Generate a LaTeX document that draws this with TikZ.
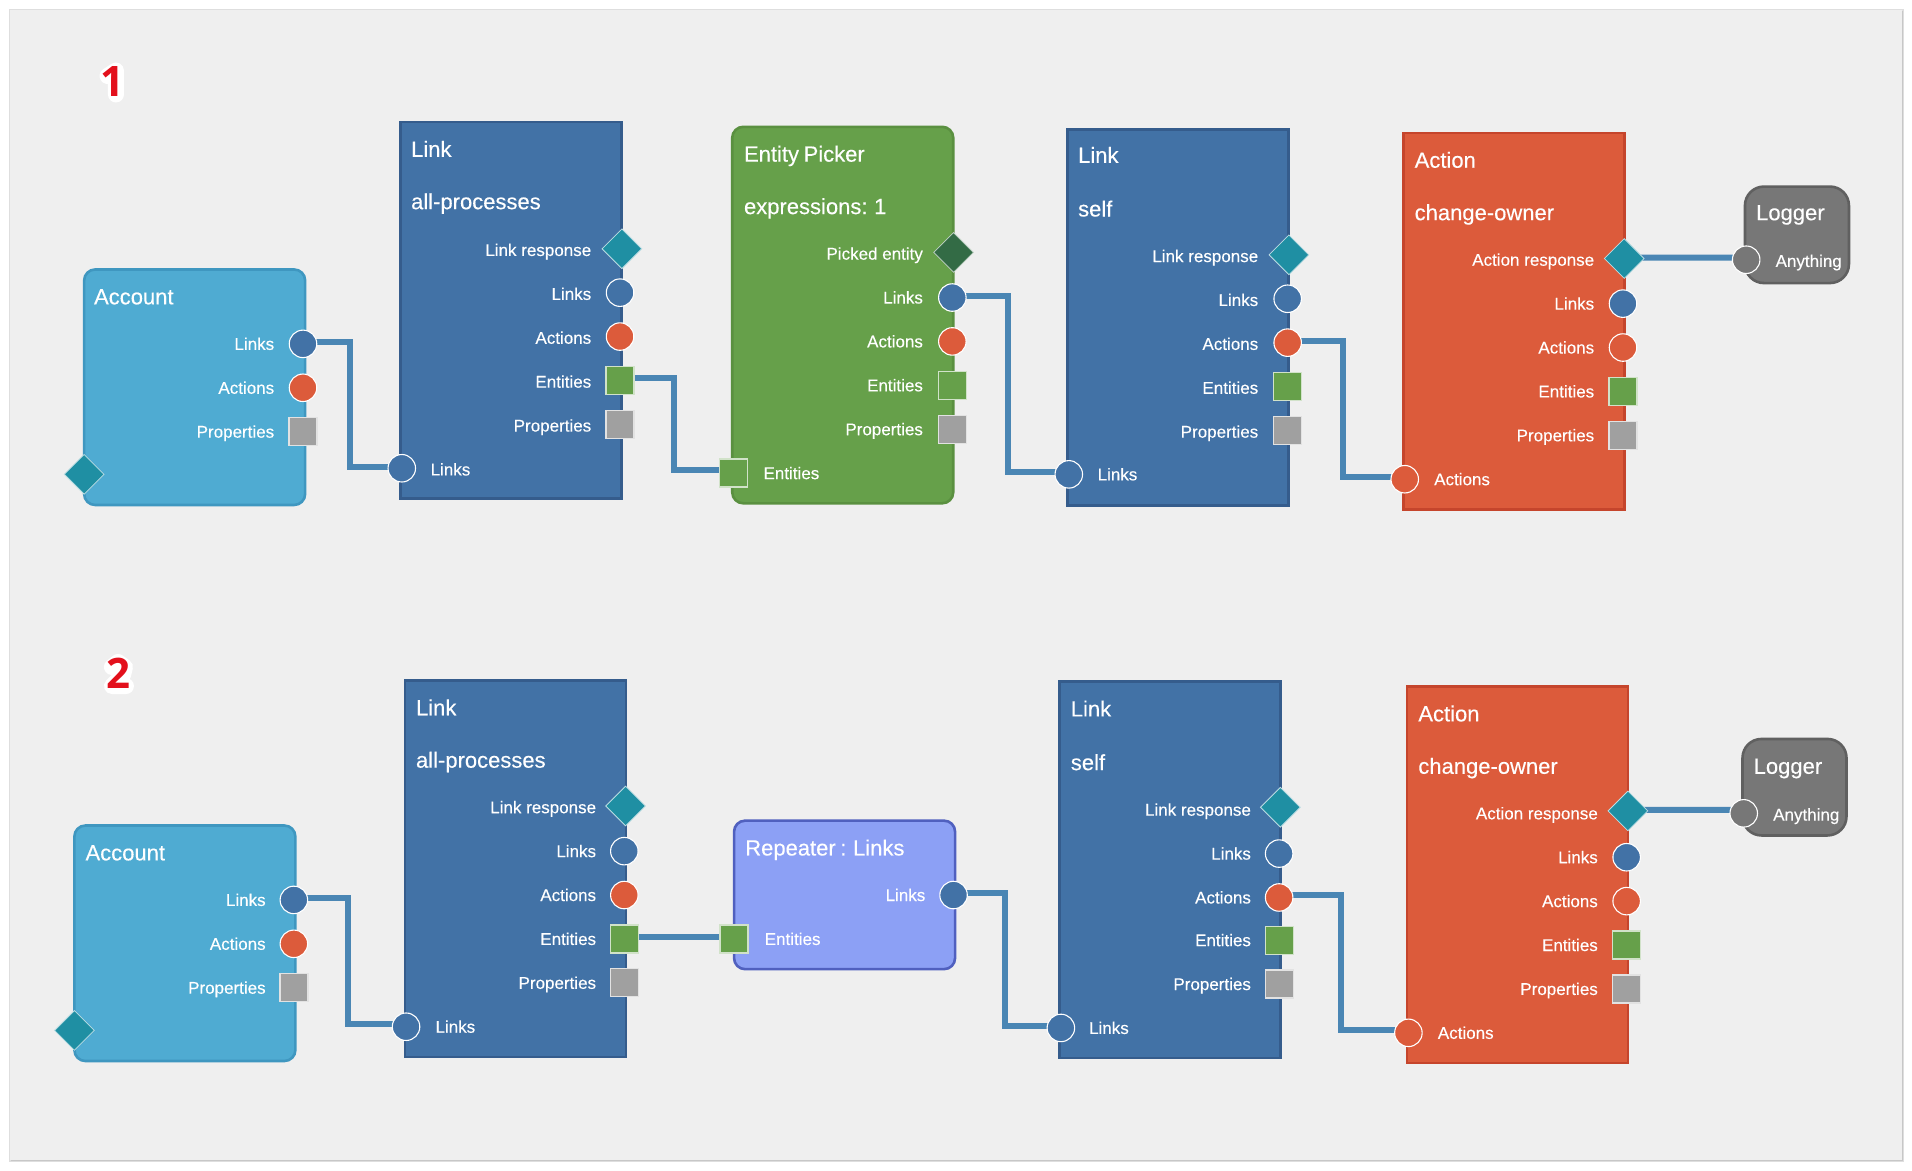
\documentclass[tikz,border=0pt]{standalone}
\usepackage{fontspec}
\setmainfont[FakeBold=0.25]{Liberation Sans}
\newfontfamily\digitfont{Open Sans}
\usetikzlibrary{shapes.geometric,backgrounds}

\definecolor{panelc}{HTML}{EFEFEF}
\definecolor{accountc}{HTML}{4FABD2}
\definecolor{accountb}{HTML}{3F97C0}
\definecolor{linkc}{HTML}{4272A6}
\definecolor{linkb}{HTML}{355C8C}
\definecolor{pickerc}{HTML}{66A04A}
\definecolor{pickerb}{HTML}{5A9040}
\definecolor{actionc}{HTML}{DC5B3B}
\definecolor{actionb}{HTML}{C5452C}
\definecolor{loggerc}{HTML}{777777}
\definecolor{loggerb}{HTML}{606060}
\definecolor{repeatc}{HTML}{8CA0F5}
\definecolor{repeatb}{HTML}{5060BF}
\definecolor{propc}{HTML}{A0A0A0}
\definecolor{respc}{HTML}{1F8FA3}
\definecolor{pickedc}{HTML}{336B45}
\definecolor{wirec}{HTML}{4A86B4}
\definecolor{digitc}{HTML}{E3101C}

\newcommand{\titlefont}{\fontsize{22}{24}\selectfont\spaceskip 4.6pt\relax}

\tikzset{
  block/.style={anchor=north west, line width=2.6pt, inner sep=0pt, outer sep=0pt, minimum width=221pt, minimum height=376.5pt},
  accountblock/.style={block, fill=accountc, draw=accountb, rounded corners=11pt, minimum height=235.5pt},
  linkblock/.style={block, fill=linkc, draw=linkb},
  pickerblock/.style={block, fill=pickerc, draw=pickerb, rounded corners=11pt},
  actionblock/.style={block, fill=actionc, draw=actionb},
  loggerblock/.style={block, fill=loggerc, draw=loggerb, rounded corners=19pt, minimum width=104pt, minimum height=96.5pt},
  repeatblock/.style={block, fill=repeatc, draw=repeatb, rounded corners=11pt, minimum height=148.5pt},
  title/.style={anchor=west, text=white, inner sep=0pt, text height=16pt, text depth=0pt, font=\titlefont},
  lblr/.style={anchor=east, text=white, inner sep=0pt, text height=12pt, text depth=0pt, font=\fontsize{17}{20}\selectfont},
  lbll/.style={lblr, anchor=west},
  round port/.style={circle, draw=white, line width=1.1pt, inner sep=0pt, minimum size=27.5pt},
  square port/.style={rectangle, line width=1.3pt, inner sep=0pt, minimum size=28pt},
  linkport/.style={round port, fill=linkc},
  actionport/.style={round port, fill=actionc},
  anyport/.style={round port, fill=loggerc},
  entityport/.style={square port, fill=pickerc, draw=white!70!pickerc},
  propport/.style={square port, fill=propc, draw=white!70!propc},
  respport/.style={diamond, fill=respc, draw=white!70!respc, line width=.8pt, inner sep=0pt, minimum size=40pt},
  pickedport/.style={respport, fill=pickedc, draw=white!70!pickedc},
  wire/.style={draw=wirec, line width=6pt},
  digit/.style={text=digitc, inner sep=0pt, text height=30pt, text depth=0pt, font=\fontsize{42}{44}\selectfont\digitfont\bfseries},
  blob/.style={draw=white, line width=16pt, line cap=round, line join=round, preaction={draw=black!35, transform canvas={yshift=-1.8pt}}}
}

\begin{document}
\begin{tikzpicture}[x=1.2194pt, y=-1.2194pt]
\useasboundingbox (0,0) rectangle (1568,959.5);

% Digits
\draw[blob] (88.2,62.3) -- (95.1,57.8) -- (95.1,77.5);
\node[digit] (one) at (92.3,67.2) {1};
\draw[blob] (91.8,547) -- (96.8,542.9) -- (102.5,547) -- (100.9,553.6) -- (91.8,562.6) -- (103.3,562.6);
\node[digit] (two) at (97.2,552.7) {2};

% Account, row 1
\node[accountblock] (acc1) at (69,221) {};
\node[title] (acc1T) at (77,243) {Account};
\node[lblr] (acc1LinksT) at (225,282) {Links};
\node[lblr] (acc1ActT) at (225,318) {Actions};
\node[lblr] (acc1PropT) at (225,354) {Properties};
\node[linkport] (acc1Links) at (248.5,282) {};
\node[actionport] (acc1Act) at (248.5,318) {};
\node[propport] (acc1Prop) at (248.5,354) {};
\node[respport] (acc1Resp) at (69,389) {};

% Link all-processes, row 1
\node[linkblock] (lk1) at (328.2,100.2) {};
\node[title] (lk1T) at (337,122) {Link};
\node[title] (lk1S) at (337,165) {all-processes};
\node[lblr] (lk1RespT) at (485,205) {Link response};
\node[lblr] (lk1LinksT) at (485,241) {Links};
\node[lblr] (lk1ActT) at (485,277) {Actions};
\node[lblr] (lk1EntT) at (485,313) {Entities};
\node[lblr] (lk1PropT) at (485,349) {Properties};
\node[lbll] (lk1InT) at (353,385) {Links};
\node[respport] (lk1Resp) at (510,204) {};
\node[linkport] (lk1Links) at (508.5,240) {};
\node[actionport] (lk1Act) at (508.5,276) {};
\node[entityport] (lk1Ent) at (508.5,312) {};
\node[propport] (lk1Prop) at (508.5,348) {};
\node[linkport] (lk1In) at (329.5,384) {};

% Entity picker
\node[pickerblock] (ep) at (600.5,104) {};
\node[title] (epT) at (610,126) {Entity Picker};
\node[title] (epS) at (610,169) {expressions: 1};
\node[lblr] (epRespT) at (757,208) {Picked entity};
\node[lblr] (epLinksT) at (757,244) {Links};
\node[lblr] (epActT) at (757,280) {Actions};
\node[lblr] (epEntT) at (757,316) {Entities};
\node[lblr] (epPropT) at (757,352) {Properties};
\node[lbll] (epInT) at (626,388) {Entities};
\node[pickedport] (epResp) at (782,207) {};
\node[linkport] (epLinks) at (781,244) {};
\node[actionport] (epAct) at (781,280) {};
\node[entityport] (epEnt) at (781,316) {};
\node[propport] (epProp) at (781,352) {};
\node[entityport] (epIn) at (601.5,388) {};

% Link self, row 1
\node[linkblock] (lk2) at (875.5,106) {};
\node[title] (lk2T) at (884,127) {Link};
\node[title] (lk2S) at (884,171) {self};
\node[lblr] (lk2RespT) at (1032,210) {Link response};
\node[lblr] (lk2LinksT) at (1032,246) {Links};
\node[lblr] (lk2ActT) at (1032,282) {Actions};
\node[lblr] (lk2EntT) at (1032,318) {Entities};
\node[lblr] (lk2PropT) at (1032,354) {Properties};
\node[lbll] (lk2InT) at (900,389) {Links};
\node[respport] (lk2Resp) at (1057,209) {};
\node[linkport] (lk2Links) at (1056,245) {};
\node[actionport] (lk2Act) at (1056,281) {};
\node[entityport] (lk2Ent) at (1056,317) {};
\node[propport] (lk2Prop) at (1056,353) {};
\node[linkport] (lk2In) at (876.5,389) {};

% Action, row 1
\node[actionblock] (act1) at (1151.2,109.2) {};
\node[title] (act1T) at (1160,131) {Action};
\node[title] (act1S) at (1160,174) {change-owner};
\node[lblr] (act1RespT) at (1307.5,213) {Action response};
\node[lblr] (act1LinksT) at (1307.5,249) {Links};
\node[lblr] (act1ActT) at (1307.5,285) {Actions};
\node[lblr] (act1EntT) at (1307.5,321) {Entities};
\node[lblr] (act1PropT) at (1307.5,357) {Properties};
\node[lbll] (act1InT) at (1176,393) {Actions};
\node[respport] (act1Resp) at (1332,212) {};
\node[linkport] (act1Links) at (1331,249) {};
\node[actionport] (act1Act) at (1331,285) {};
\node[entityport] (act1Ent) at (1331,321) {};
\node[propport] (act1Prop) at (1331,357) {};
\node[actionport] (act1In) at (1152,393) {};

% Logger, row 1
\node[loggerblock] (log1) at (1431,153) {};
\node[title] (log1T) at (1440,174) {Logger};
\node[lbll] (log1InT) at (1456,214) {Anything};
\node[anyport] (log1In) at (1432,213) {};

% Account, row 2
\node[accountblock] (acc2) at (61,677) {};
\node[title] (acc2T) at (70,699) {Account};
\node[lblr] (acc2LinksT) at (218,738) {Links};
\node[lblr] (acc2ActT) at (218,774) {Actions};
\node[lblr] (acc2PropT) at (218,810) {Properties};
\node[linkport] (acc2Links) at (241,738) {};
\node[actionport] (acc2Act) at (241,774) {};
\node[propport] (acc2Prop) at (241,810) {};
\node[respport] (acc2Resp) at (61,845) {};

% Link all-processes, row 2
\node[linkblock] (lk3) at (332,558) {};
\node[title] (lk3T) at (341,580) {Link};
\node[title] (lk3S) at (341,623) {all-processes};
\node[lblr] (lk3RespT) at (489,662) {Link response};
\node[lblr] (lk3LinksT) at (489,698) {Links};
\node[lblr] (lk3ActT) at (489,734) {Actions};
\node[lblr] (lk3EntT) at (489,770) {Entities};
\node[lblr] (lk3PropT) at (489,806) {Properties};
\node[lbll] (lk3InT) at (357,842) {Links};
\node[respport] (lk3Resp) at (513,661) {};
\node[linkport] (lk3Links) at (512,698) {};
\node[actionport] (lk3Act) at (512,734) {};
\node[entityport] (lk3Ent) at (512,770) {};
\node[propport] (lk3Prop) at (512,806) {};
\node[linkport] (lk3In) at (333,842) {};

% Repeater
\node[repeatblock] (rep) at (602,673) {};
\node[title] (repT) at (611,695) {Repeater : Links};
\node[lblr] (repLinksT) at (759,734) {Links};
\node[lbll] (repInT) at (627,770) {Entities};
\node[linkport] (repLinks) at (782,734) {};
\node[entityport] (repIn) at (602,770) {};

% Link self, row 2
\node[linkblock] (lk4) at (869,559) {};
\node[title] (lk4T) at (878,581) {Link};
\node[title] (lk4S) at (878,625) {self};
\node[lblr] (lk4RespT) at (1026,664) {Link response};
\node[lblr] (lk4LinksT) at (1026,700) {Links};
\node[lblr] (lk4ActT) at (1026,736) {Actions};
\node[lblr] (lk4EntT) at (1026,771) {Entities};
\node[lblr] (lk4PropT) at (1026,807) {Properties};
\node[lbll] (lk4InT) at (893,843) {Links};
\node[respport] (lk4Resp) at (1050,662) {};
\node[linkport] (lk4Links) at (1049,700) {};
\node[actionport] (lk4Act) at (1049,736) {};
\node[entityport] (lk4Ent) at (1049,771) {};
\node[propport] (lk4Prop) at (1049,807) {};
\node[linkport] (lk4In) at (870,843) {};

% Action, row 2
\node[actionblock] (act2) at (1154,563) {};
\node[title] (act2T) at (1163,585) {Action};
\node[title] (act2S) at (1163,628) {change-owner};
\node[lblr] (act2RespT) at (1310.5,667) {Action response};
\node[lblr] (act2LinksT) at (1310.5,703) {Links};
\node[lblr] (act2ActT) at (1310.5,739) {Actions};
\node[lblr] (act2EntT) at (1310.5,775) {Entities};
\node[lblr] (act2PropT) at (1310.5,811) {Properties};
\node[lbll] (act2InT) at (1179,847) {Actions};
\node[respport] (act2Resp) at (1335,665) {};
\node[linkport] (act2Links) at (1334,703) {};
\node[actionport] (act2Act) at (1334,739) {};
\node[entityport] (act2Ent) at (1334,775) {};
\node[propport] (act2Prop) at (1334,811) {};
\node[actionport] (act2In) at (1155,847) {};

% Logger, row 2
\node[loggerblock] (log2) at (1429,606) {};
\node[title] (log2T) at (1438,628) {Logger};
\node[lbll] (log2InT) at (1454,668) {Anything};
\node[anyport] (log2In) at (1430,667) {};

% Wires
\coordinate (bend1) at (287,382.8);
\coordinate (bend2) at (553,385.6);
\coordinate (bend3) at (827,387);
\coordinate (bend4) at (1101,391);
\coordinate (bend6) at (285,840);
\coordinate (bend8) at (824,841);
\coordinate (bend9) at (1100,845);
\begin{scope}[on background layer]
% Panel
\fill[white] (0,0) rectangle (1568,959.5);
\fill[black!13] (7.4,7.4) rectangle (1561.6,953);
\fill[black!22] (9,9) rectangle (1561,952.3);
\fill[panelc] (8.2,8.2) rectangle (1559.8,951.3);
\draw[wire] ([yshift=2pt]acc1Links.center) -| (bend1) -- (lk1In.center |- bend1);
\draw[wire] ([yshift=2pt]lk1Ent.center) -| (bend2) -- (epIn.center |- bend2);
\draw[wire] ([yshift=2pt]epLinks.center) -| (bend3) -- (lk2In.center |- bend3);
\draw[wire] ([yshift=2pt]lk2Act.center) -| (bend4) -- (act1In.center |- bend4);
\draw[wire] ([yshift=1pt]act1Resp.center) -- ([yshift=2pt]log1In.center);
\draw[wire] ([yshift=2pt]acc2Links.center) -| (bend6) -- (lk3In.center |- bend6);
\draw[wire] ([yshift=2pt]lk3Ent.center) -- ([yshift=2pt]repIn.center);
\draw[wire] ([yshift=2pt]repLinks.center) -| (bend8) -- (lk4In.center |- bend8);
\draw[wire] ([yshift=2pt]lk4Act.center) -| (bend9) -- (act2In.center |- bend9);
\draw[wire] ([yshift=1pt]act2Resp.center) -- ([yshift=3.4pt]log2In.center);
\end{scope}
\end{tikzpicture}
\end{document}
